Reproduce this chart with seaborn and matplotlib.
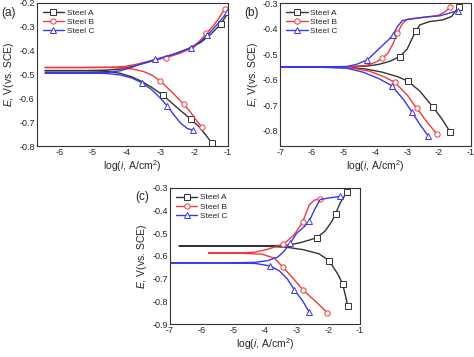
import matplotlib
matplotlib.use("Agg")
import matplotlib.pyplot as plt
from matplotlib.ticker import AutoMinorLocator, MultipleLocator
import seaborn as sns

# (a) each path: cathodic end -> corrosion point -> anodic end
a_A_x = [-1.48, -1.65, -1.85, -2.11, -2.5, -2.92, -3.25, -3.55, -3.85, -4.2, -4.6, -5.3, -6.42,
         -5.3, -4.6, -4.2, -3.8, -3.4, -3.0, -2.5, -2.1, -1.8, -1.5, -1.22, -1.06]
a_A_y = [-0.788, -0.755, -0.72, -0.687, -0.64, -0.588, -0.555, -0.53, -0.51, -0.495, -0.487, -0.484, -0.484,
         -0.484, -0.482, -0.478, -0.465, -0.45, -0.433, -0.41, -0.388, -0.365, -0.33, -0.29, -0.255]
a_A_mk = [0, 3, 5, 23]
a_B_x = [-1.76, -1.9, -2.1, -2.31, -2.55, -2.8, -3.02, -3.25, -3.5, -3.8, -4.1, -4.5, -5.3, -6.42,
         -5.3, -4.5, -4.1, -3.8, -3.4, -2.83, -2.4, -2.0, -1.64, -1.4, -1.25, -1.1]
a_B_y = [-0.722, -0.7, -0.66, -0.625, -0.59, -0.555, -0.526, -0.503, -0.488, -0.478, -0.473, -0.471, -0.471, -0.471,
         -0.471, -0.47, -0.467, -0.46, -0.447, -0.43, -0.41, -0.385, -0.328, -0.29, -0.26, -0.225]
a_B_mk = [0, 3, 6, 19, 22, 25]
a_C_x = [-2.05, -2.2, -2.4, -2.6, -2.8, -3.0, -3.25, -3.55, -3.85, -4.2, -4.6, -5.3, -6.42,
         -5.3, -4.6, -4.2, -3.85, -3.5, -3.15, -2.6, -2.11, -1.8, -1.61, -1.35, -1.02]
a_C_y = [-0.733, -0.727, -0.705, -0.67, -0.632, -0.6, -0.565, -0.535, -0.515, -0.502, -0.496, -0.494, -0.494,
         -0.494, -0.492, -0.485, -0.47, -0.452, -0.437, -0.415, -0.388, -0.36, -0.335, -0.295, -0.24]
a_C_mk = [0, 4, 7, 18, 20, 22, 24]

# (b)
b_A_x = [-1.64, -1.9, -2.18, -2.6, -2.96, -3.3, -3.8, -4.3, -4.9, -6.0, -6.95,
         -6.0, -4.9, -4.3, -3.9, -3.55, -3.23, -3.0, -2.85, -2.73, -2.6, -2.3, -1.9, -1.6, -1.37]
b_A_y = [-0.806, -0.755, -0.708, -0.645, -0.607, -0.588, -0.57, -0.558, -0.551, -0.55, -0.55,
         -0.55, -0.549, -0.547, -0.54, -0.528, -0.509, -0.48, -0.44, -0.41, -0.385, -0.372, -0.366, -0.352, -0.313]
b_A_mk = [0, 2, 4, 16, 19, 24]
b_B_x = [-2.07, -2.35, -2.7, -3.0, -3.39, -3.7, -4.2, -4.8, -6.0, -6.95,
         -6.0, -4.8, -4.3, -4.0, -3.78, -3.6, -3.45, -3.31, -3.15, -3.0, -2.5, -2.0, -1.8, -1.64]
b_B_y = [-0.812, -0.77, -0.712, -0.66, -0.61, -0.59, -0.566, -0.553, -0.55, -0.55,
         -0.55, -0.549, -0.544, -0.532, -0.516, -0.495, -0.46, -0.418, -0.38, -0.363, -0.356, -0.347, -0.333, -0.316]
b_B_mk = [0, 2, 4, 14, 17, 23]
b_C_x = [-2.34, -2.6, -2.86, -3.1, -3.48, -3.9, -4.4, -4.9, -6.0, -6.95,
         -6.0, -4.9, -4.6, -4.25, -3.9, -3.6, -3.45, -3.3, -3.15, -2.9, -2.5, -2.0, -1.7, -1.4]
b_C_y = [-0.82, -0.775, -0.725, -0.68, -0.624, -0.595, -0.57, -0.555, -0.55, -0.55,
         -0.55, -0.548, -0.54, -0.522, -0.48, -0.445, -0.425, -0.39, -0.368, -0.362, -0.355, -0.35, -0.34, -0.329]
b_C_mk = [0, 2, 4, 13, 16, 23]

# (c)
c_A_x = [-1.39, -1.45, -1.55, -1.7, -1.98, -2.3, -2.8, -3.3, -4.0, -5.0, -6.71,
         -5.0, -4.0, -3.3, -2.9, -2.6, -2.37, -2.1, -1.9, -1.77, -1.62, -1.42]
c_A_y = [-0.822, -0.78, -0.722, -0.68, -0.62, -0.59, -0.572, -0.562, -0.557, -0.556, -0.556,
         -0.556, -0.556, -0.553, -0.542, -0.53, -0.52, -0.49, -0.45, -0.414, -0.365, -0.32]
c_A_mk = [0, 2, 4, 16, 19, 21]
c_B_x = [-2.03, -2.4, -2.79, -3.1, -3.44, -3.7, -4.1, -4.8, -5.79,
         -4.8, -4.3, -3.9, -3.42, -3.1, -2.95, -2.81, -2.7, -2.6, -2.45, -2.26]
c_B_y = [-0.85, -0.8, -0.751, -0.7, -0.648, -0.61, -0.592, -0.588, -0.587,
         -0.587, -0.583, -0.57, -0.548, -0.51, -0.48, -0.449, -0.41, -0.375, -0.355, -0.348]
c_B_mk = [0, 2, 4, 12, 15, 19]
c_C_x = [-2.6, -2.8, -3.08, -3.3, -3.55, -3.84, -4.3, -5.0, -6.0, -6.98,
         -6.0, -5.0, -4.3, -3.9, -3.6, -3.4, -3.21, -3.0, -2.75, -2.6, -2.42, -2.26, -2.0, -1.63]
c_C_y = [-0.848, -0.8, -0.748, -0.7, -0.665, -0.644, -0.633, -0.63, -0.63, -0.63,
         -0.63, -0.63, -0.628, -0.62, -0.605, -0.58, -0.545, -0.5, -0.47, -0.445, -0.392, -0.352, -0.345, -0.338]
c_C_mk = [0, 2, 5, 16, 19, 23]

steels = ["Steel A", "Steel B", "Steel C"]
colors = ["#333333", "#f23a3a", "#3838f0"]
markers = ["s", "o", "^"]

sns.set_style("white")
plt.rcParams["font.family"] = ["Liberation Sans", "DejaVu Sans"]
plt.rcParams["mathtext.fontset"] = "custom"
plt.rcParams["mathtext.rm"] = "Liberation Sans"
plt.rcParams["mathtext.it"] = "Liberation Sans:italic"
plt.rcParams["axes.unicode_minus"] = False

fig = plt.figure(figsize=(4.74, 3.57), dpi=100)
ax_a = fig.add_axes([0.0774, 0.591, 0.4036, 0.401])
ax_b = fig.add_axes([0.591, 0.591, 0.402, 0.400])
ax_c = fig.add_axes([0.3586, 0.092, 0.4009, 0.382])

panels = [
    (ax_a, [(a_A_x, a_A_y, a_A_mk), (a_B_x, a_B_y, a_B_mk), (a_C_x, a_C_y, a_C_mk)],
     (-6.67, -1), (-0.8, -0.2), "(a)", (0.002, 0.955)),
    (ax_b, [(b_A_x, b_A_y, b_A_mk), (b_B_x, b_B_y, b_B_mk), (b_C_x, b_C_y, b_C_mk)],
     (-7, -1), (-0.86, -0.3), "(b)", (0.515, 0.955)),
    (ax_c, [(c_A_x, c_A_y, c_A_mk), (c_B_x, c_B_y, c_B_mk), (c_C_x, c_C_y, c_C_mk)],
     (-7, -1), (-0.9, -0.3), "(c)", (0.285, 0.44)),
]

for ax, curves, xl, yl, tag, tagpos in panels:
    for (x, y, mk), name, col, m in zip(curves, steels, colors, markers):
        sns.lineplot(x=x, y=y, ax=ax, sort=False, estimator=None, color=col, lw=1.0,
                     marker=m, markevery=mk, markersize=3.8, markerfacecolor="white",
                     markeredgecolor=col, markeredgewidth=0.7, label=name)
    ax.set_xlim(*xl)
    ax.set_ylim(*yl)
    ax.xaxis.set_major_locator(MultipleLocator(1))
    ax.yaxis.set_major_locator(MultipleLocator(0.1))
    ax.xaxis.set_minor_locator(AutoMinorLocator(5))
    ax.yaxis.set_minor_locator(AutoMinorLocator(5))
    ax.tick_params(which="both", direction="in", top=False, right=False, labelsize=6.5,
                   width=0.6, pad=1.5)
    ax.tick_params(which="major", length=3)
    ax.tick_params(which="minor", length=1.5)
    for s in ax.spines.values():
        s.set_linewidth(0.8)
        s.set_color("#333333")
    ax.set_xlabel(r"log($i$, A/cm$^2$)", fontsize=7.5, labelpad=1)
    ax.set_ylabel(r"$E$, V(vs. SCE)", fontsize=7.5, labelpad=2)
    ax.legend(loc="upper left", frameon=False, fontsize=6, handlelength=2.6,
              handletextpad=0.3, labelspacing=0.15, borderaxespad=0.3)
    fig.text(tagpos[0], tagpos[1], tag, fontsize=8.5)

fig.savefig("out.png", dpi=100)
